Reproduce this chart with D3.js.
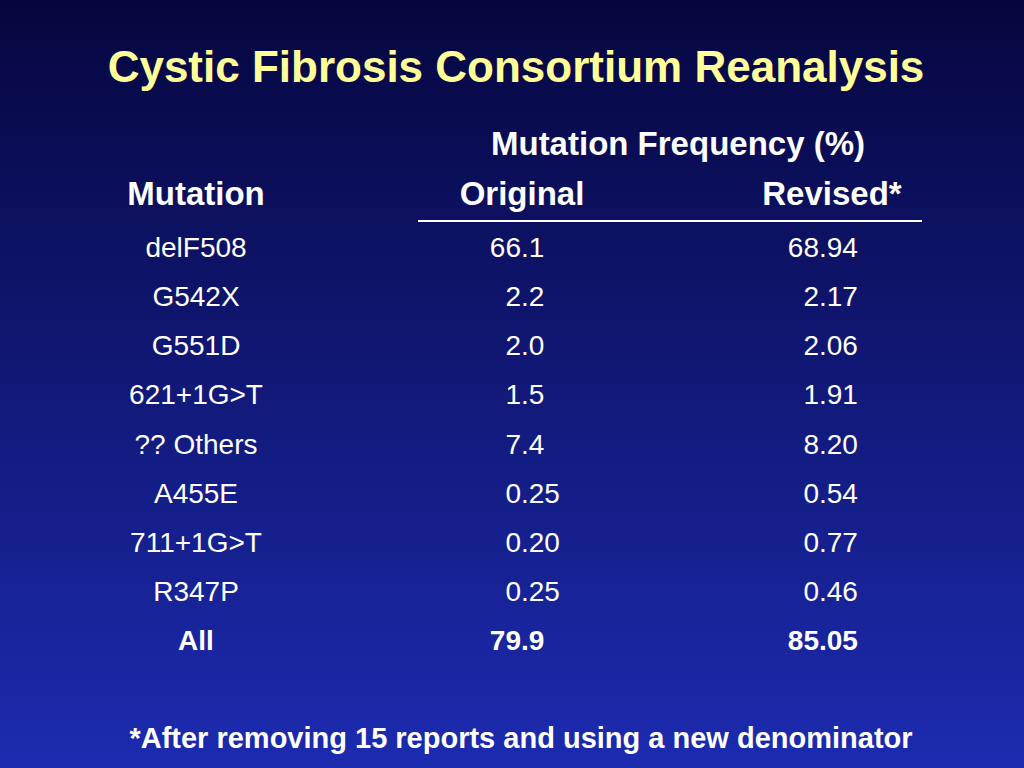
<!DOCTYPE html>
<html><head><meta charset="utf-8">
<script src="https://cdn.jsdelivr.net/npm/d3@7"></script>
<style>body{margin:0;overflow:hidden}</style>
</head><body>
<script>
const mutations = ['delF508', 'G542X', 'G551D', '621+1G>T', '?? Others', 'A455E', '711+1G>T', 'R347P', 'All'];
const original = ['66.1', '2.2', '2.0', '1.5', '7.4', '0.25', '0.20', '0.25', '79.9'];
const revised = ['68.94', '2.17', '2.06', '1.91', '8.20', '0.54', '0.77', '0.46', '85.05'];

const W = 1024, H = 768;
const svg = d3.select('body').append('svg').attr('width', W).attr('height', H)
    .style('font-family', '"Liberation Sans", Arial, sans-serif');
const grad = svg.append('defs').append('linearGradient').attr('id', 'bg')
    .attr('x1', 0).attr('y1', 0).attr('x2', 0).attr('y2', 1);
grad.append('stop').attr('offset', '0%').attr('stop-color', '#06063f');
grad.append('stop').attr('offset', '100%').attr('stop-color', '#1c2bb0');
svg.append('rect').attr('width', W).attr('height', H).attr('fill', 'url(#bg)');

svg.append('text').attr('x', 516).attr('y', 82).attr('text-anchor', 'middle')
    .attr('fill', '#ffff99').attr('font-weight', 'bold').attr('font-size', 44)
    .text('Cystic Fibrosis Consortium Reanalysis');

const head = (x, y, t) => svg.append('text').attr('x', x).attr('y', y).attr('text-anchor', 'middle')
    .attr('fill', 'white').attr('font-weight', 'bold').attr('font-size', 33).text(t);
head(678, 155, 'Mutation Frequency (%)');
head(196, 205, 'Mutation');
head(522, 205, 'Original');
head(832, 205, 'Revised*');
svg.append('line').attr('x1', 418).attr('x2', 922).attr('y1', 221).attr('y2', 221)
    .attr('stroke', 'white').attr('stroke-width', 2);

const y = d3.scalePoint().domain(d3.range(mutations.length)).range([257, 650]);
const last = mutations.length - 1;
const row = svg.selectAll('g.row').data(mutations).join('g').attr('class', 'row')
    .attr('fill', 'white').attr('font-size', 28)
    .attr('font-weight', (d, i) => i === last ? 'bold' : 'normal');
row.append('text').attr('x', 196).attr('y', (d, i) => y(i)).attr('text-anchor', 'middle').text(d => d);

function decimalCol(vals, xDot) {
    row.append('text').attr('x', xDot).attr('y', (d, i) => y(i)).attr('text-anchor', 'end')
        .text((d, i) => vals[i].split('.')[0]);
    row.append('text').attr('x', xDot).attr('y', (d, i) => y(i))
        .text((d, i) => '.' + vals[i].split('.')[1]);
}
decimalCol(original, 521);
decimalCol(revised, 819);

svg.append('text').attr('x', 521).attr('y', 748).attr('text-anchor', 'middle')
    .attr('fill', 'white').attr('font-weight', 'bold').attr('font-size', 29)
    .text('*After removing 15 reports and using a new denominator');
</script>
</body></html>
